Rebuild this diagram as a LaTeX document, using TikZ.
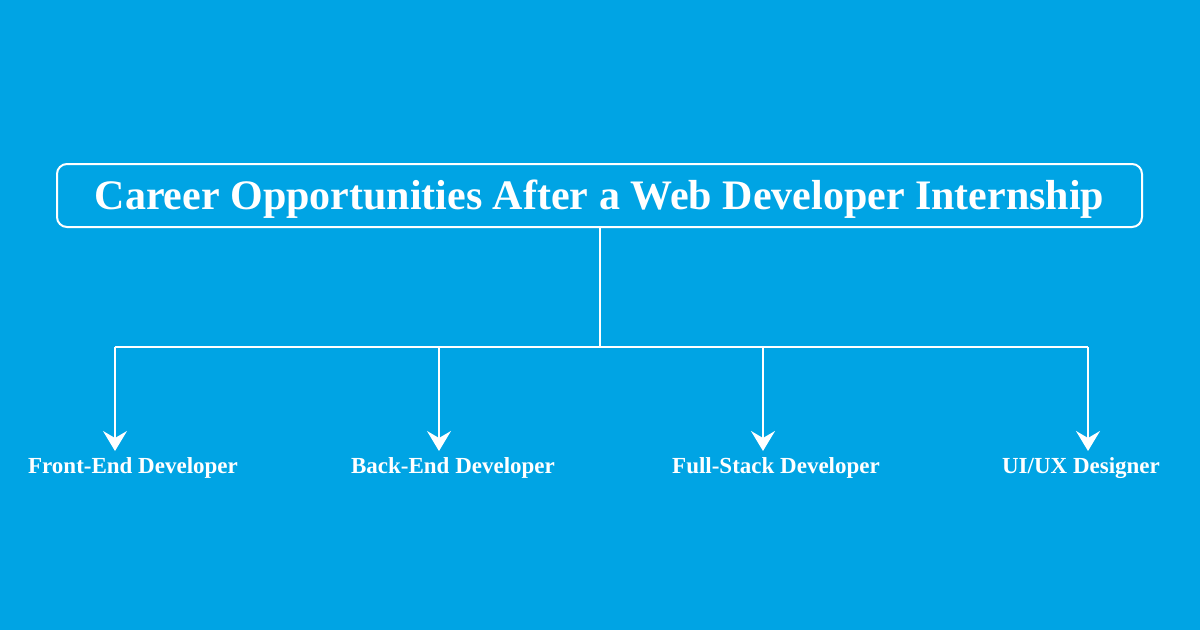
\documentclass[tikz,border=0pt]{standalone}
\usepackage{fontspec}
\setmainfont{Liberation Serif}
\usetikzlibrary{arrows.meta}
\definecolor{bg}{HTML}{00A4E4}
\tikzset{
  conn/.style={draw=white, line width=2pt},
  arr/.style={conn, -{Stealth[length=20pt,width=24pt,inset=7pt]}},
  titlebox/.style={draw=white, line width=2pt, rounded corners=10pt, minimum width=1085pt, minimum height=63pt, inner sep=0pt, text=white, font=\fontsize{42}{46}\selectfont\bfseries},
  role/.style={text=white, inner sep=0pt, anchor=base, font=\fontsize{23}{26}\selectfont\bfseries}
}
\begin{document}
\begin{tikzpicture}[x=1pt,y=-1pt]
\fill[bg] (0,0) rectangle (1200,630);
\useasboundingbox (0,0) rectangle (1200,630);
\node[titlebox] (title) at (599.5,195.5) {\raisebox{-13.5pt}[0pt][0pt]{Career Opportunities After a Web Developer Internship}};
\coordinate (hub) at (600,347);
\coordinate (h1) at (115,347);
\coordinate (h2) at (439,347);
\coordinate (h3) at (763,347);
\coordinate (h4) at (1088,347);
\node[role] (r1) at (133,473) {Front-End Developer};
\node[role] (r2) at (453,473) {Back-End Developer};
\node[role] (r3) at (776,473) {Full-Stack Developer};
\node[role] (r4) at (1081,473) {UI/UX Designer};
\coordinate (e1) at (115,451);
\coordinate (e2) at (439,451);
\coordinate (e3) at (763,451);
\coordinate (e4) at (1088,451);
\draw[conn] (title.south -| hub) -- (hub);
\draw[conn] (h1) -- (h4);
\draw[arr] (h1) -- (e1);
\draw[arr] (h2) -- (e2);
\draw[arr] (h3) -- (e3);
\draw[arr] (h4) -- (e4);
\end{tikzpicture}
\end{document}
